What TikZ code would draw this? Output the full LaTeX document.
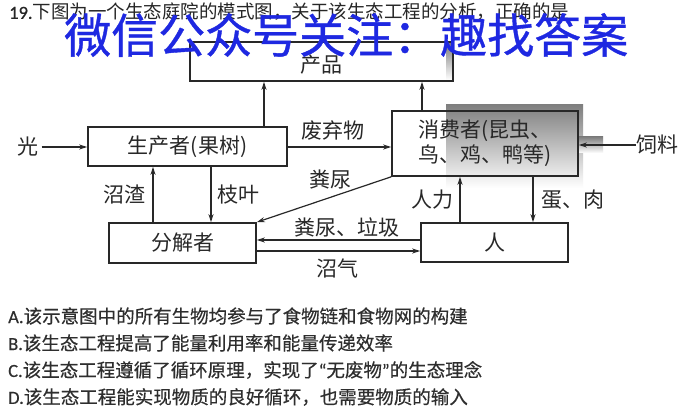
\documentclass[tikz,border=0pt]{standalone}
\usepackage{fontspec}
\setmainfont{Noto Sans CJK SC}
\newfontfamily\latinfont{Carlito}[FakeBold=0.4]
\newfontfamily\optcjk{Noto Sans CJK SC}[FakeBold=0.4]
\newfontfamily\wmfont{Noto Sans CJK SC}[FakeBold=0.8]
\usetikzlibrary{arrows.meta,calc}
\definecolor{ink}{RGB}{40,40,40}
\definecolor{wmblue}{RGB}{30,40,225}
\definecolor{shade}{RGB}{214,214,214}
\begin{document}
\begin{tikzpicture}[x=1pt,y=-1pt,
  box/.style={draw=ink,line width=1.6pt,inner sep=0pt,text=ink,font=\fontsize{21}{25}\selectfont},
  lbl/.style={text=ink,inner sep=0pt,font=\fontsize{21}{25}\selectfont},
  arr/.style={draw=ink,line width=1.2pt,-{Stealth[length=8pt,width=5pt]}},
  opt/.style={anchor=west,inner sep=0pt,text=black!82,font=\optcjk\fontsize{18.5}{22}\selectfont},
  hdrstyle/.style={anchor=west,inner sep=0pt,text=black!85,font=\fontsize{18.5}{22}\selectfont},
  wmstyle/.style={anchor=west,inner sep=0pt,text=wmblue,font=\wmfont\fontsize{47}{50}\selectfont}]
\useasboundingbox (0,0) rectangle (700,419);
\fill[white] (0,0) rectangle (700,419);

% scan shading
\fill[shade] (446,44) rectangle (453,80);
\fill[shade] (446,105) rectangle (583,188);
\fill[shade] (578,137) rectangle (603,153);

% header
\node[hdrstyle] (hdr) at (9,12) {{\latinfont 19.}下图为一个生态庭院的模式图，关于该生态工程的分析，正确的是};

% boxes
\node[box,minimum width=263pt,minimum height=39pt,text height=26pt,text depth=3pt] (prod) at (321.5,61.5) {产品};
\node[box,minimum width=199pt,minimum height=39pt] (producer) at (187.5,146.5) {生产者(果树)};
\node[box,minimum width=186pt,minimum height=65pt,align=center] (consumer) at (485,143.5) {消费者(昆虫、\\鸟、鸡、鸭等)};
\node[box,minimum width=147pt,minimum height=40pt] (decomp) at (182.5,243) {分解者};
\node[box,minimum width=147pt,minimum height=39pt] (person) at (494.5,242.5) {人};

% side inputs
\node[lbl] (guang) at (28,147) {光};
\node[lbl] (siliao) at (657,145) {饲料};
\draw[arr,shorten <=3pt] (guang.east) -- (guang.east -| producer.west);
\draw[arr] (siliao.west) -- (siliao.west -| consumer.east);

% to product
\coordinate (p1) at ($(producer.north)+(76.5,0)$);
\coordinate (p2) at ($(consumer.north)+(-63,0)$);
\draw[arr] (p1) -- (p1 |- prod.south);
\draw[arr] (p2) -- (p2 |- prod.south);

% waste
\coordinate (w1) at ($(producer.east)+(0,0.5)$);
\draw[arr] (w1) -- (w1 -| consumer.west);
\node[lbl] (lfeiqi) at (333,130) {废弃物};

% manure diagonal
\draw[arr] (consumer.south west) -- (decomp.north east);
\node[lbl] (lfen) at (330,180) {粪尿};

% person <-> decomposer
\coordinate (h1) at ($(person.west)+(0,-2.5)$);
\draw[arr] (h1) -- (h1 -| decomp.east);
\node[lbl] (lfenlaji) at (347,227) {粪尿、垃圾};
\coordinate (h2) at ($(decomp.east)+(0,8)$);
\draw[arr] (h2) -- (h2 -| person.west);
\node[lbl] (lzhaoqi) at (337,268) {沼气};

% producer <-> decomposer
\coordinate (v1) at ($(decomp.north)+(-29.5,0)$);
\draw[arr] (v1) -- (v1 |- producer.south);
\node[lbl] (lzhaozha) at (124,195) {沼渣};
\coordinate (v2) at ($(producer.south)+(23.5,0)$);
\draw[arr] (v2) -- (v2 |- decomp.north);
\node[lbl] (lzhiye) at (238,195) {枝叶};

% consumer <-> person
\coordinate (v3) at ($(person.north)+(-34.5,0)$);
\draw[arr] (v3) -- (v3 |- consumer.south);
\node[lbl] (lrenli) at (432,200) {人力};
\coordinate (v4) at ($(consumer.south)+(48,0)$);
\draw[arr] (v4) -- (v4 |- person.north);
\node[lbl] (ldanrou) at (573,200) {蛋、肉};

% options
\node[opt] (oa) at (8,316) {{\latinfont A.}该示意图中的所有生物均参与了食物链和食物网的构建};
\node[opt] (ob) at (8,343) {{\latinfont B.}该生态工程提高了能量利用率和能量传递效率};
\node[opt] (oc) at (8,370) {{\latinfont C.}该生态工程遵循了循环原理，实现了{\latinfont “}无废物{\latinfont ”}的生态理念};
\node[opt] (od) at (8,397) {{\latinfont D.}该生态工程能实现物质的良好循环，也需要物质的输入};

% watermark
\node[wmstyle] (wm) at (64,35) {微信公众号关注：趣找答案};
\end{tikzpicture}
\end{document}
